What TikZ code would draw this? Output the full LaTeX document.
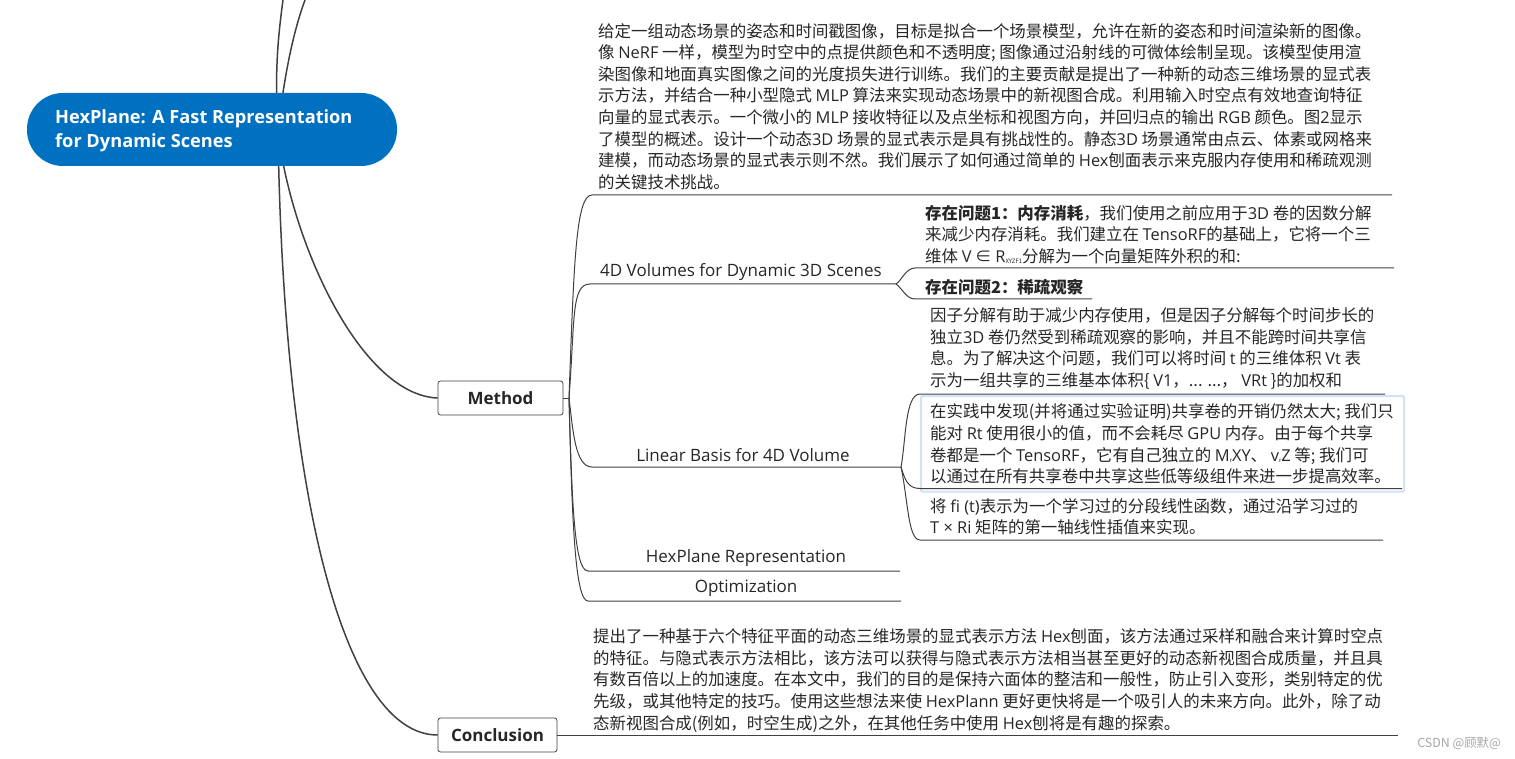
\documentclass[tikz,border=0pt]{standalone}
\usepackage{fontspec}
\setmainfont{Noto Sans CJK SC}
\newfontfamily\latfont{Open Sans}
\newcommand{\lat}[1]{{\latfont\fontsize{16.4}{21.6}\selectfont #1}}
\newcommand{\subs}[1]{\raisebox{-1.5pt}{\fontsize{6}{6}\selectfont #1}}
\definecolor{linecol}{HTML}{404040}
\definecolor{rootblue}{HTML}{0070C0}
\definecolor{selblue}{HTML}{CFE2F7}
\tikzset{
	note/.style={anchor=west,inner sep=0pt,align=left,text=black!85,font=\fontsize{16.45}{21.6}\selectfont},
	title/.style={anchor=center,inner sep=0pt,text=black!85,font=\latfont\fontsize{17}{20}\selectfont},
	topic/.style={draw=linecol,rounded corners=2.5pt,line width=0.8pt,inner sep=0pt,minimum height=34pt,text=black!85,font=\latfont\bfseries\fontsize{17}{20}\selectfont},
	trunk/.style={draw=linecol,line width=1.5pt},
	branch/.style={draw=linecol,line width=1pt}
}
\begin{document}
\begin{tikzpicture}[x=1pt,y=-1pt]
	\useasboundingbox (0,0) rectangle (1515,759);

	% Trunk
	\coordinate (hub) at (278,130);
	\coordinate (upa) at (283,0);
	\coordinate (upb) at (305,0);
	\node[topic,minimum width=125pt] (method) at (500.5,398) {Method};
	\node[topic,minimum width=119pt] (conclusion) at (497.5,735) {Conclusion};
	\draw[trunk] (hub) .. controls (274,70) and (279,30) .. (upa);
	\draw[trunk] (hub) .. controls (285,70) and (294,30) .. (upb);
	\draw[trunk] (hub) .. controls (290,240) and (360,395) .. (method.west);
	\draw[trunk] (hub) .. controls (283,500) and (345,735) .. (conclusion.west);

	% Root
	\node[fill=rootblue,rounded corners=36pt,minimum width=370pt,minimum height=73pt,inner sep=0pt] (root) at (212,129.5) {};
	\node[anchor=west,inner sep=0pt,align=left,text=white,font=\latfont\bfseries\fontsize{18.2}{24}\selectfont] (roottext) at (55,130.5) {HexPlane: A Fast Representation\\for Dynamic Scenes};

	% Method branches
	\coordinate (mhub) at (569,398);
	\coordinate (sumleft) at (592,195);
	\coordinate (sumright) at (1392,195);
	\coordinate (volleft) at (590,284);
	\coordinate (volright) at (896,284);
	\coordinate (linleft) at (592,467);
	\coordinate (linright) at (901,467);
	\coordinate (hexleft) at (588,571);
	\coordinate (hexright) at (900,571);
	\coordinate (optleft) at (588,601);
	\coordinate (optright) at (901,601);
	\draw[branch] (method.east) -- (mhub);
	\draw[branch] (mhub) .. controls (574,260) and (576,195) .. (sumleft) -- (sumright);
	\draw[branch] (mhub) .. controls (575,320) and (571,284) .. (volleft) -- (volright);
	\draw[branch] (mhub) .. controls (573,430) and (575,467) .. (linleft) -- (linright);
	\draw[branch] (mhub) .. controls (572,500) and (574,571) .. (hexleft) -- (hexright);
	\draw[branch] (mhub) .. controls (572,520) and (575,601) .. (optleft) -- (optright);

	% Volumes children
	\coordinate (proaleft) at (915,268);
	\coordinate (proaright) at (1394,268);
	\coordinate (probleft) at (915,299);
	\coordinate (probright) at (1092,299);
	\draw[branch] (volright) .. controls (902,280) and (906,268) .. (proaleft) -- (proaright);
	\draw[branch] (volright) .. controls (902,288) and (906,299) .. (probleft) -- (probright);

	% Linear children
	\coordinate (faleft) at (920,394);
	\coordinate (faright) at (1385,394);
	\coordinate (fbleft) at (920,488.5);
	\coordinate (fbright) at (1402,488.5);
	\coordinate (fcleft) at (920,540);
	\coordinate (fcright) at (1383,540);
	\node[draw=selblue,line width=2pt,rounded corners=1pt,minimum width=483pt,minimum height=95.5pt,inner sep=0pt] (selbox) at (1162.5,443.75) {};
	\draw[branch] (linright) .. controls (906,440) and (905,394) .. (faleft) -- (faright);
	\draw[branch] (linright) .. controls (905,480) and (908,488.5) .. (fbleft) -- (fbright);
	\draw[branch] (linright) .. controls (908,500) and (908,540) .. (fcleft) -- (fcright);

	% Conclusion
	\coordinate (conright) at (1398,735);
	\draw[branch] (conclusion.east) -- (conright);

	% Labels
	\node[title] (voltext) at (741,272.5) {4D Volumes for Dynamic 3D Scenes};
	\node[title] (lintext) at (743,455.5) {Linear Basis for 4D Volume};
	\node[title] (hextext) at (746,558.5) {HexPlane Representation};
	\node[title] (opttext) at (746,588) {Optimization};

	% Notes
	\node[note] (sumtext) at (598,106.5) {给定一组动态场景的姿态和时间戳图像，目标是拟合一个场景模型，允许在新的姿态和时间渲染新的图像。\\
		像 \lat{NeRF} 一样，模型为时空中的点提供颜色和不透明度; 图像通过沿射线的可微体绘制呈现。该模型使用渲\\
		染图像和地面真实图像之间的光度损失进行训练。我们的主要贡献是提出了一种新的动态三维场景的显式表\\
		示方法，并结合一种小型隐式 \lat{MLP} 算法来实现动态场景中的新视图合成。利用输入时空点有效地查询特征\\
		向量的显式表示。一个微小的 \lat{MLP} 接收特征以及点坐标和视图方向，并回归点的输出 \lat{RGB} 颜色。图\lat{2}显示\\
		了模型的概述。设计一个动态\lat{3D} 场景的显式表示是具有挑战性的。静态\lat{3D} 场景通常由点云、体素或网格来\\
		建模，而动态场景的显式表示则不然。我们展示了如何通过简单的 \lat{Hex}刨面表示来克服内存使用和稀疏观测\\
		的关键技术挑战。};
	\node[note] (protexta) at (925,234.5) {\textbf{存在问题1：内存消耗}，我们使用之前应用于\lat{3D} 卷的因数分解\\
		来减少内存消耗。我们建立在 \lat{TensoRF}的基础上，它将一个三\\
		维体 \lat{V} ∈ \lat{R}\subs{XYZF1}分解为一个向量矩阵外积的和:};
	\node[note] (protextb) at (925,287) {\textbf{存在问题2：稀疏观察}};
	\node[note] (factexta) at (930,348.5) {因子分解有助于减少内存使用，但是因子分解每个时间步长的\\
		独立\lat{3D} 卷仍然受到稀疏观察的影响，并且不能跨时间共享信\\
		息。为了解决这个问题，我们可以将时间 \lat{t} 的三维体积 \lat{Vt} 表\\
		示为一组共享的三维基本体积\{ \lat{V1}，... ...， \lat{VRt} \}的加权和};
	\node[note] (factextb) at (930,444) {在实践中发现(并将通过实验证明)共享卷的开销仍然太大; 我们只\\
		能对 \lat{Rt} 使用很小的值，而不会耗尽 \lat{GPU} 内存。由于每个共享\\
		卷都是一个 \lat{TensoRF}，它有自己独立的 \lat{M}\subs{r}\lat{XY}、 \lat{v}\subs{r}\lat{Z} 等; 我们可\\
		以通过在所有共享卷中共享这些低等级组件来进一步提高效率。};
	\node[note] (factextc) at (930,516.5) {将 \lat{fi (t)}表示为一个学习过的分段线性函数，通过沿学习过的\\
		\lat{T × Ri} 矩阵的第一轴线性插值来实现。};
	\node[note] (context) at (593,680.5) {提出了一种基于六个特征平面的动态三维场景的显式表示方法 \lat{Hex}刨面，该方法通过采样和融合来计算时空点\\
		的特征。与隐式表示方法相比，该方法可以获得与隐式表示方法相当甚至更好的动态新视图合成质量，并且具\\
		有数百倍以上的加速度。在本文中，我们的目的是保持六面体的整洁和一般性，防止引入变形，类别特定的优\\
		先级，或其他特定的技巧。使用这些想法来使 \lat{HexPlann} 更好更快将是一个吸引人的未来方向。此外，除了动\\
		态新视图合成(例如，时空生成)之外，在其他任务中使用 \lat{Hex}刨将是有趣的探索。};

	% Mark
	\node[anchor=east,inner sep=0pt,text=black!35,font=\fontsize{12.4}{14}\selectfont] (mark) at (1501,743) {CSDN @顾默@};
\end{tikzpicture}
\end{document}
